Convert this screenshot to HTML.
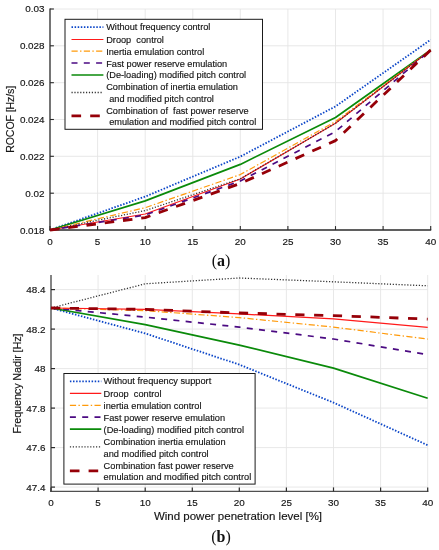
<!DOCTYPE html>
<html><head><meta charset="utf-8"><title>Figure</title>
<style>
html,body{margin:0;padding:0;background:#fff;}
body{width:439px;height:550px;overflow:hidden;}
svg{display:block;}
text{font-family:"Liberation Sans",Arial,Helvetica,sans-serif;fill:#141414;stroke:#141414;stroke-width:0.15px;}
.cap{font-family:"Liberation Serif","Times New Roman",serif;font-size:16px;fill:#111;stroke:none;}
</style></head><body>
<svg width="439" height="550" viewBox="0 0 439 550">
<rect width="439" height="550" fill="#fff"/>

<g id="top">
<line x1="97.6" y1="9.0" x2="97.6" y2="230.0" stroke="#e5e5e5" stroke-width="0.9"/>
<line x1="145.2" y1="9.0" x2="145.2" y2="230.0" stroke="#e5e5e5" stroke-width="0.9"/>
<line x1="192.8" y1="9.0" x2="192.8" y2="230.0" stroke="#e5e5e5" stroke-width="0.9"/>
<line x1="240.3" y1="9.0" x2="240.3" y2="230.0" stroke="#e5e5e5" stroke-width="0.9"/>
<line x1="287.9" y1="9.0" x2="287.9" y2="230.0" stroke="#e5e5e5" stroke-width="0.9"/>
<line x1="335.5" y1="9.0" x2="335.5" y2="230.0" stroke="#e5e5e5" stroke-width="0.9"/>
<line x1="383.1" y1="9.0" x2="383.1" y2="230.0" stroke="#e5e5e5" stroke-width="0.9"/>
<line x1="430.7" y1="9.0" x2="430.7" y2="230.0" stroke="#e5e5e5" stroke-width="0.9"/>
<line x1="50.0" y1="193.2" x2="430.7" y2="193.2" stroke="#e5e5e5" stroke-width="0.9"/>
<line x1="50.0" y1="156.3" x2="430.7" y2="156.3" stroke="#e5e5e5" stroke-width="0.9"/>
<line x1="50.0" y1="119.5" x2="430.7" y2="119.5" stroke="#e5e5e5" stroke-width="0.9"/>
<line x1="50.0" y1="82.7" x2="430.7" y2="82.7" stroke="#e5e5e5" stroke-width="0.9"/>
<line x1="50.0" y1="45.8" x2="430.7" y2="45.8" stroke="#e5e5e5" stroke-width="0.9"/>
<line x1="50.0" y1="9.0" x2="430.7" y2="9.0" stroke="#e5e5e5" stroke-width="0.9"/>
<line x1="50.0" y1="8.5" x2="50.0" y2="230.6" stroke="#2a2a2a" stroke-width="1.3"/>
<line x1="49.4" y1="230.0" x2="431.2" y2="230.0" stroke="#2a2a2a" stroke-width="1.3"/>
<line x1="50.0" y1="230.0" x2="50.0" y2="226.1" stroke="#2a2a2a" stroke-width="1.1"/>
<line x1="97.6" y1="230.0" x2="97.6" y2="226.1" stroke="#2a2a2a" stroke-width="1.1"/>
<line x1="145.2" y1="230.0" x2="145.2" y2="226.1" stroke="#2a2a2a" stroke-width="1.1"/>
<line x1="192.8" y1="230.0" x2="192.8" y2="226.1" stroke="#2a2a2a" stroke-width="1.1"/>
<line x1="240.3" y1="230.0" x2="240.3" y2="226.1" stroke="#2a2a2a" stroke-width="1.1"/>
<line x1="287.9" y1="230.0" x2="287.9" y2="226.1" stroke="#2a2a2a" stroke-width="1.1"/>
<line x1="335.5" y1="230.0" x2="335.5" y2="226.1" stroke="#2a2a2a" stroke-width="1.1"/>
<line x1="383.1" y1="230.0" x2="383.1" y2="226.1" stroke="#2a2a2a" stroke-width="1.1"/>
<line x1="430.7" y1="230.0" x2="430.7" y2="226.1" stroke="#2a2a2a" stroke-width="1.1"/>
<line x1="50.0" y1="230.0" x2="53.9" y2="230.0" stroke="#2a2a2a" stroke-width="1.1"/>
<line x1="50.0" y1="193.2" x2="53.9" y2="193.2" stroke="#2a2a2a" stroke-width="1.1"/>
<line x1="50.0" y1="156.3" x2="53.9" y2="156.3" stroke="#2a2a2a" stroke-width="1.1"/>
<line x1="50.0" y1="119.5" x2="53.9" y2="119.5" stroke="#2a2a2a" stroke-width="1.1"/>
<line x1="50.0" y1="82.7" x2="53.9" y2="82.7" stroke="#2a2a2a" stroke-width="1.1"/>
<line x1="50.0" y1="45.8" x2="53.9" y2="45.8" stroke="#2a2a2a" stroke-width="1.1"/>
<line x1="50.0" y1="9.0" x2="53.9" y2="9.0" stroke="#2a2a2a" stroke-width="1.1"/>
<polyline points="50.0,230.0 145.2,196.6 240.3,156.6 335.5,106.4 430.7,39.7" fill="none" stroke="#0a45c8" stroke-width="1.8" stroke-dasharray="1.5 1.6" stroke-linecap="butt" stroke-linejoin="round"/>
<polyline points="50.0,230.0 145.2,200.9 240.3,164.4 335.5,117.5 430.7,50.0" fill="none" stroke="#0a8a0a" stroke-width="1.7" stroke-linecap="butt" stroke-linejoin="round"/>
<polyline points="50.0,230.0 145.2,207.7 240.3,174.6 335.5,121.6 430.7,50.0" fill="none" stroke="#ff9a0a" stroke-width="1.2" stroke-dasharray="6.2 2.35 1.4 2.35" stroke-linecap="butt" stroke-linejoin="round"/>
<polyline points="50.0,230.0 145.2,214.0 240.3,179.0 335.5,123.2 430.7,50.0" fill="none" stroke="#ff1a1a" stroke-width="1.2" stroke-linecap="butt" stroke-linejoin="round"/>
<polyline points="50.0,230.0 145.2,210.6 240.3,178.8 335.5,123.2 430.7,50.0" fill="none" stroke="#333" stroke-width="1.3" stroke-dasharray="1.2 1.7" stroke-linecap="butt" stroke-linejoin="round"/>
<polyline points="50.0,230.0 145.2,215.0 240.3,181.0 335.5,131.6 430.7,50.0" fill="none" stroke="#4b0a82" stroke-width="1.7" stroke-dasharray="6 6.3" stroke-linecap="butt" stroke-linejoin="round"/>
<polyline points="50.0,230.0 145.2,217.6 240.3,183.5 335.5,140.6 430.7,50.0" fill="none" stroke="#960008" stroke-width="2.8" stroke-dasharray="9.5 8.9" stroke-linecap="butt" stroke-linejoin="round"/>
<text x="44.6" y="234.4" font-size="9.9" text-anchor="end">0.018</text>
<text x="44.6" y="197.4" font-size="9.9" text-anchor="end">0.02</text>
<text x="44.6" y="160.4" font-size="9.9" text-anchor="end">0.022</text>
<text x="44.6" y="123.4" font-size="9.9" text-anchor="end">0.024</text>
<text x="44.6" y="86.4" font-size="9.9" text-anchor="end">0.026</text>
<text x="44.6" y="49.4" font-size="9.9" text-anchor="end">0.028</text>
<text x="44.6" y="12.4" font-size="9.9" text-anchor="end">0.03</text>
<text x="50.0"  y="244.7" font-size="9.9" text-anchor="middle">0</text>
<text x="97.6"  y="244.7" font-size="9.9" text-anchor="middle">5</text>
<text x="145.2"  y="244.7" font-size="9.9" text-anchor="middle">10</text>
<text x="192.8"  y="244.7" font-size="9.9" text-anchor="middle">15</text>
<text x="240.3"  y="244.7" font-size="9.9" text-anchor="middle">20</text>
<text x="287.9"  y="244.7" font-size="9.9" text-anchor="middle">25</text>
<text x="335.5"  y="244.7" font-size="9.9" text-anchor="middle">30</text>
<text x="383.1"  y="244.7" font-size="9.9" text-anchor="middle">35</text>
<text x="430.7"  y="244.7" font-size="9.9" text-anchor="middle">40</text>
<text transform="translate(13.8,152.8) rotate(-90)" font-size="10.6" textLength="67" lengthAdjust="spacing">ROCOF [Hz/s]</text>
<rect x="65" y="19.3" width="197.5" height="110" fill="#fff" stroke="#1a1a1a" stroke-width="1"/>
<polyline points="71.5,27.1 103.4,27.1" fill="none" stroke="#0a45c8" stroke-width="1.8" stroke-dasharray="1.5 1.6" stroke-linecap="butt" stroke-linejoin="round"/>
<text x="106.2" y="30.2" font-size="9.2" xml:space="preserve">Without frequency control</text>
<polyline points="71.5,39.5 103.4,39.5" fill="none" stroke="#ff1a1a" stroke-width="1.2" stroke-linecap="butt" stroke-linejoin="round"/>
<text x="106.2" y="42.6" font-size="9.2" xml:space="preserve">Droop&#160; control</text>
<polyline points="71.5,51.1 103.4,51.1" fill="none" stroke="#ff9a0a" stroke-width="1.2" stroke-dasharray="6.2 2.35 1.4 2.35" stroke-linecap="butt" stroke-linejoin="round"/>
<text x="106.2" y="54.5" font-size="9.2" xml:space="preserve">Inertia emulation control</text>
<polyline points="71.5,63.0 103.4,63.0" fill="none" stroke="#4b0a82" stroke-width="1.7" stroke-dasharray="6 6.3" stroke-linecap="butt" stroke-linejoin="round"/>
<text x="106.2" y="66.5" font-size="9.2" xml:space="preserve">Fast power reserve emulation</text>
<polyline points="71.5,75.0 103.4,75.0" fill="none" stroke="#0a8a0a" stroke-width="1.7" stroke-linecap="butt" stroke-linejoin="round"/>
<text x="106.2" y="78.4" font-size="9.2" xml:space="preserve">(De-loading) modified pitch control</text>
<polyline points="71.5,92.5 103.4,92.5" fill="none" stroke="#333" stroke-width="1.3" stroke-dasharray="1.2 1.7" stroke-linecap="butt" stroke-linejoin="round"/>
<text x="106.2" y="90.3" font-size="9.2" xml:space="preserve">Combination of inertia emulation</text>
<text x="109.2" y="102.0" font-size="9.2" xml:space="preserve">and modified pitch control</text>
<polyline points="71.5,115.9 103.4,115.9" fill="none" stroke="#960008" stroke-width="2.8" stroke-dasharray="9.6 9.1" stroke-linecap="butt" stroke-linejoin="round"/>
<text x="106.2" y="113.6" font-size="9.2" xml:space="preserve">Combination of&#160; fast power reserve</text>
<text x="109.2" y="125.3" font-size="9.2" xml:space="preserve">emulation and modified pitch control</text>
<text class="cap" x="221" y="266" text-anchor="middle">(<tspan font-weight="bold">a</tspan>)</text>
</g>
<g id="bottom">
<line x1="98.1" y1="275.0" x2="98.1" y2="491.4" stroke="#e5e5e5" stroke-width="0.9"/>
<line x1="145.2" y1="275.0" x2="145.2" y2="491.4" stroke="#e5e5e5" stroke-width="0.9"/>
<line x1="192.3" y1="275.0" x2="192.3" y2="491.4" stroke="#e5e5e5" stroke-width="0.9"/>
<line x1="239.3" y1="275.0" x2="239.3" y2="491.4" stroke="#e5e5e5" stroke-width="0.9"/>
<line x1="286.4" y1="275.0" x2="286.4" y2="491.4" stroke="#e5e5e5" stroke-width="0.9"/>
<line x1="333.5" y1="275.0" x2="333.5" y2="491.4" stroke="#e5e5e5" stroke-width="0.9"/>
<line x1="380.6" y1="275.0" x2="380.6" y2="491.4" stroke="#e5e5e5" stroke-width="0.9"/>
<line x1="427.7" y1="275.0" x2="427.7" y2="491.4" stroke="#e5e5e5" stroke-width="0.9"/>
<line x1="51.0" y1="487.1" x2="427.7" y2="487.1" stroke="#e5e5e5" stroke-width="0.9"/>
<line x1="51.0" y1="447.6" x2="427.7" y2="447.6" stroke="#e5e5e5" stroke-width="0.9"/>
<line x1="51.0" y1="408.1" x2="427.7" y2="408.1" stroke="#e5e5e5" stroke-width="0.9"/>
<line x1="51.0" y1="368.6" x2="427.7" y2="368.6" stroke="#e5e5e5" stroke-width="0.9"/>
<line x1="51.0" y1="329.1" x2="427.7" y2="329.1" stroke="#e5e5e5" stroke-width="0.9"/>
<line x1="51.0" y1="289.6" x2="427.7" y2="289.6" stroke="#e5e5e5" stroke-width="0.9"/>
<line x1="51.0" y1="275.0" x2="51.0" y2="492.09999999999997" stroke="#505050" stroke-width="1.4"/>
<line x1="50.3" y1="491.4" x2="428.4" y2="491.4" stroke="#505050" stroke-width="1.4"/>
<line x1="51.0" y1="491.4" x2="51.0" y2="487.4" stroke="#2a2a2a" stroke-width="1.2"/>
<line x1="98.1" y1="491.4" x2="98.1" y2="487.4" stroke="#2a2a2a" stroke-width="1.2"/>
<line x1="145.2" y1="491.4" x2="145.2" y2="487.4" stroke="#2a2a2a" stroke-width="1.2"/>
<line x1="192.3" y1="491.4" x2="192.3" y2="487.4" stroke="#2a2a2a" stroke-width="1.2"/>
<line x1="239.3" y1="491.4" x2="239.3" y2="487.4" stroke="#2a2a2a" stroke-width="1.2"/>
<line x1="286.4" y1="491.4" x2="286.4" y2="487.4" stroke="#2a2a2a" stroke-width="1.2"/>
<line x1="333.5" y1="491.4" x2="333.5" y2="487.4" stroke="#2a2a2a" stroke-width="1.2"/>
<line x1="380.6" y1="491.4" x2="380.6" y2="487.4" stroke="#2a2a2a" stroke-width="1.2"/>
<line x1="427.7" y1="491.4" x2="427.7" y2="487.4" stroke="#2a2a2a" stroke-width="1.2"/>
<line x1="51.0" y1="487.1" x2="55.0" y2="487.1" stroke="#2a2a2a" stroke-width="1.2"/>
<line x1="51.0" y1="447.6" x2="55.0" y2="447.6" stroke="#2a2a2a" stroke-width="1.2"/>
<line x1="51.0" y1="408.1" x2="55.0" y2="408.1" stroke="#2a2a2a" stroke-width="1.2"/>
<line x1="51.0" y1="368.6" x2="55.0" y2="368.6" stroke="#2a2a2a" stroke-width="1.2"/>
<line x1="51.0" y1="329.1" x2="55.0" y2="329.1" stroke="#2a2a2a" stroke-width="1.2"/>
<line x1="51.0" y1="289.6" x2="55.0" y2="289.6" stroke="#2a2a2a" stroke-width="1.2"/>
<polyline points="51.0,308.0 145.2,333.4 239.3,364.6 333.5,402.6 427.7,445.2" fill="none" stroke="#0a45c8" stroke-width="1.8" stroke-dasharray="1.5 1.6" stroke-linecap="butt" stroke-linejoin="round"/>
<polyline points="51.0,308.0 145.2,324.6 239.3,345.1 333.5,368.1 427.7,398.2" fill="none" stroke="#0a8a0a" stroke-width="1.7" stroke-linecap="butt" stroke-linejoin="round"/>
<polyline points="51.0,308.0 145.2,317.1 239.3,327.1 333.5,339.0 427.7,354.6" fill="none" stroke="#4b0a82" stroke-width="1.7" stroke-dasharray="6 6.3" stroke-linecap="butt" stroke-linejoin="round"/>
<polyline points="51.0,308.0 145.2,310.6 239.3,317.6 333.5,327.1 427.7,339.1" fill="none" stroke="#ff9a0a" stroke-width="1.2" stroke-dasharray="6.2 2.35 1.4 2.35" stroke-linecap="butt" stroke-linejoin="round"/>
<polyline points="51.0,308.0 145.2,283.8 239.3,278.0 333.5,281.8 427.7,285.8" fill="none" stroke="#333" stroke-width="1.3" stroke-dasharray="1.2 1.7" stroke-linecap="butt" stroke-linejoin="round"/>
<polyline points="51.0,308.0 145.2,309.3 239.3,313.9 333.5,318.9 427.7,327.3" fill="none" stroke="#ff1a1a" stroke-width="1.2" stroke-linecap="butt" stroke-linejoin="round"/>
<polyline points="51.0,308.0 145.2,309.4 239.3,313.0 333.5,315.6 427.7,319.1" fill="none" stroke="#960008" stroke-width="2.8" stroke-dasharray="9.2 9.6" stroke-linecap="butt" stroke-linejoin="round"/>
 <text x="45.4" y="490.8" font-size="9.9" text-anchor="end">47.4</text>
 <text x="45.4" y="451.3" font-size="9.9" text-anchor="end">47.6</text>
 <text x="45.4" y="411.8" font-size="9.9" text-anchor="end">47.8</text>
 <text x="45.4" y="372.3" font-size="9.9" text-anchor="end">48</text>
 <text x="45.4" y="332.8" font-size="9.9" text-anchor="end">48.2</text>
 <text x="45.4" y="293.3" font-size="9.9" text-anchor="end">48.4</text>
<text x="51.0" y="505.7" font-size="9.9" text-anchor="middle">0</text>
<text x="98.1" y="505.7" font-size="9.9" text-anchor="middle">5</text>
<text x="145.2" y="505.7" font-size="9.9" text-anchor="middle">10</text>
<text x="192.3" y="505.7" font-size="9.9" text-anchor="middle">15</text>
<text x="239.3" y="505.7" font-size="9.9" text-anchor="middle">20</text>
<text x="286.4" y="505.7" font-size="9.9" text-anchor="middle">25</text>
<text x="333.5" y="505.7" font-size="9.9" text-anchor="middle">30</text>
<text x="380.6" y="505.7" font-size="9.9" text-anchor="middle">35</text>
<text x="427.7" y="505.7" font-size="9.9" text-anchor="middle">40</text>
<text transform="translate(20.9,433.8) rotate(-90)" font-size="11" textLength="100.4" lengthAdjust="spacing">Frequency Nadir [Hz]</text>
<text x="238" y="520" font-size="11.5" text-anchor="middle">Wind power penetration level [%]</text>
<rect x="63.9" y="373.5" width="191.2" height="110.6" fill="#fff" stroke="#1a1a1a" stroke-width="1"/>
<polyline points="69.9,381.3 101.3,381.3" fill="none" stroke="#0a45c8" stroke-width="1.8" stroke-dasharray="1.5 1.6" stroke-linecap="butt" stroke-linejoin="round"/>
<text x="103.6" y="384.2" font-size="9.23" xml:space="preserve">Without frequency support</text>
<polyline points="69.9,393.3 101.3,393.3" fill="none" stroke="#ff1a1a" stroke-width="1.2" stroke-linecap="butt" stroke-linejoin="round"/>
<text x="103.6" y="396.6" font-size="9.23" xml:space="preserve">Droop&#160; control</text>
<polyline points="69.9,405.3 101.3,405.3" fill="none" stroke="#ff9a0a" stroke-width="1.2" stroke-dasharray="6.2 2.35 1.4 2.35" stroke-linecap="butt" stroke-linejoin="round"/>
<text x="103.6" y="408.8" font-size="9.23" xml:space="preserve">inertia emulation control</text>
<polyline points="69.9,417.2 101.3,417.2" fill="none" stroke="#4b0a82" stroke-width="1.7" stroke-dasharray="6 6.3" stroke-linecap="butt" stroke-linejoin="round"/>
<text x="103.6" y="420.5" font-size="9.23" xml:space="preserve">Fast power reserve emulation</text>
<polyline points="69.9,429.2 101.3,429.2" fill="none" stroke="#0a8a0a" stroke-width="1.7" stroke-linecap="butt" stroke-linejoin="round"/>
<text x="103.6" y="432.5" font-size="9.23" xml:space="preserve">(De-loading) modified pitch control</text>
<polyline points="69.9,446.9 101.3,446.9" fill="none" stroke="#333" stroke-width="1.3" stroke-dasharray="1.2 1.7" stroke-linecap="butt" stroke-linejoin="round"/>
<text x="103.6" y="445.3" font-size="9.23" xml:space="preserve">Combination inertia emulation</text>
<text x="103.6" y="456.5" font-size="9.23" xml:space="preserve">and modified pitch control</text>
<polyline points="69.9,470.9 101.3,470.9" fill="none" stroke="#960008" stroke-width="2.8" stroke-dasharray="9.6 9.1" stroke-linecap="butt" stroke-linejoin="round"/>
<text x="103.6" y="468.6" font-size="9.23" xml:space="preserve">Combination fast power reserve</text>
<text x="103.6" y="480.4" font-size="9.23" xml:space="preserve">emulation and modified pitch control</text>
<text class="cap" x="221" y="541.5" text-anchor="middle">(<tspan font-weight="bold">b</tspan>)</text>
</g>
</svg></body></html>
